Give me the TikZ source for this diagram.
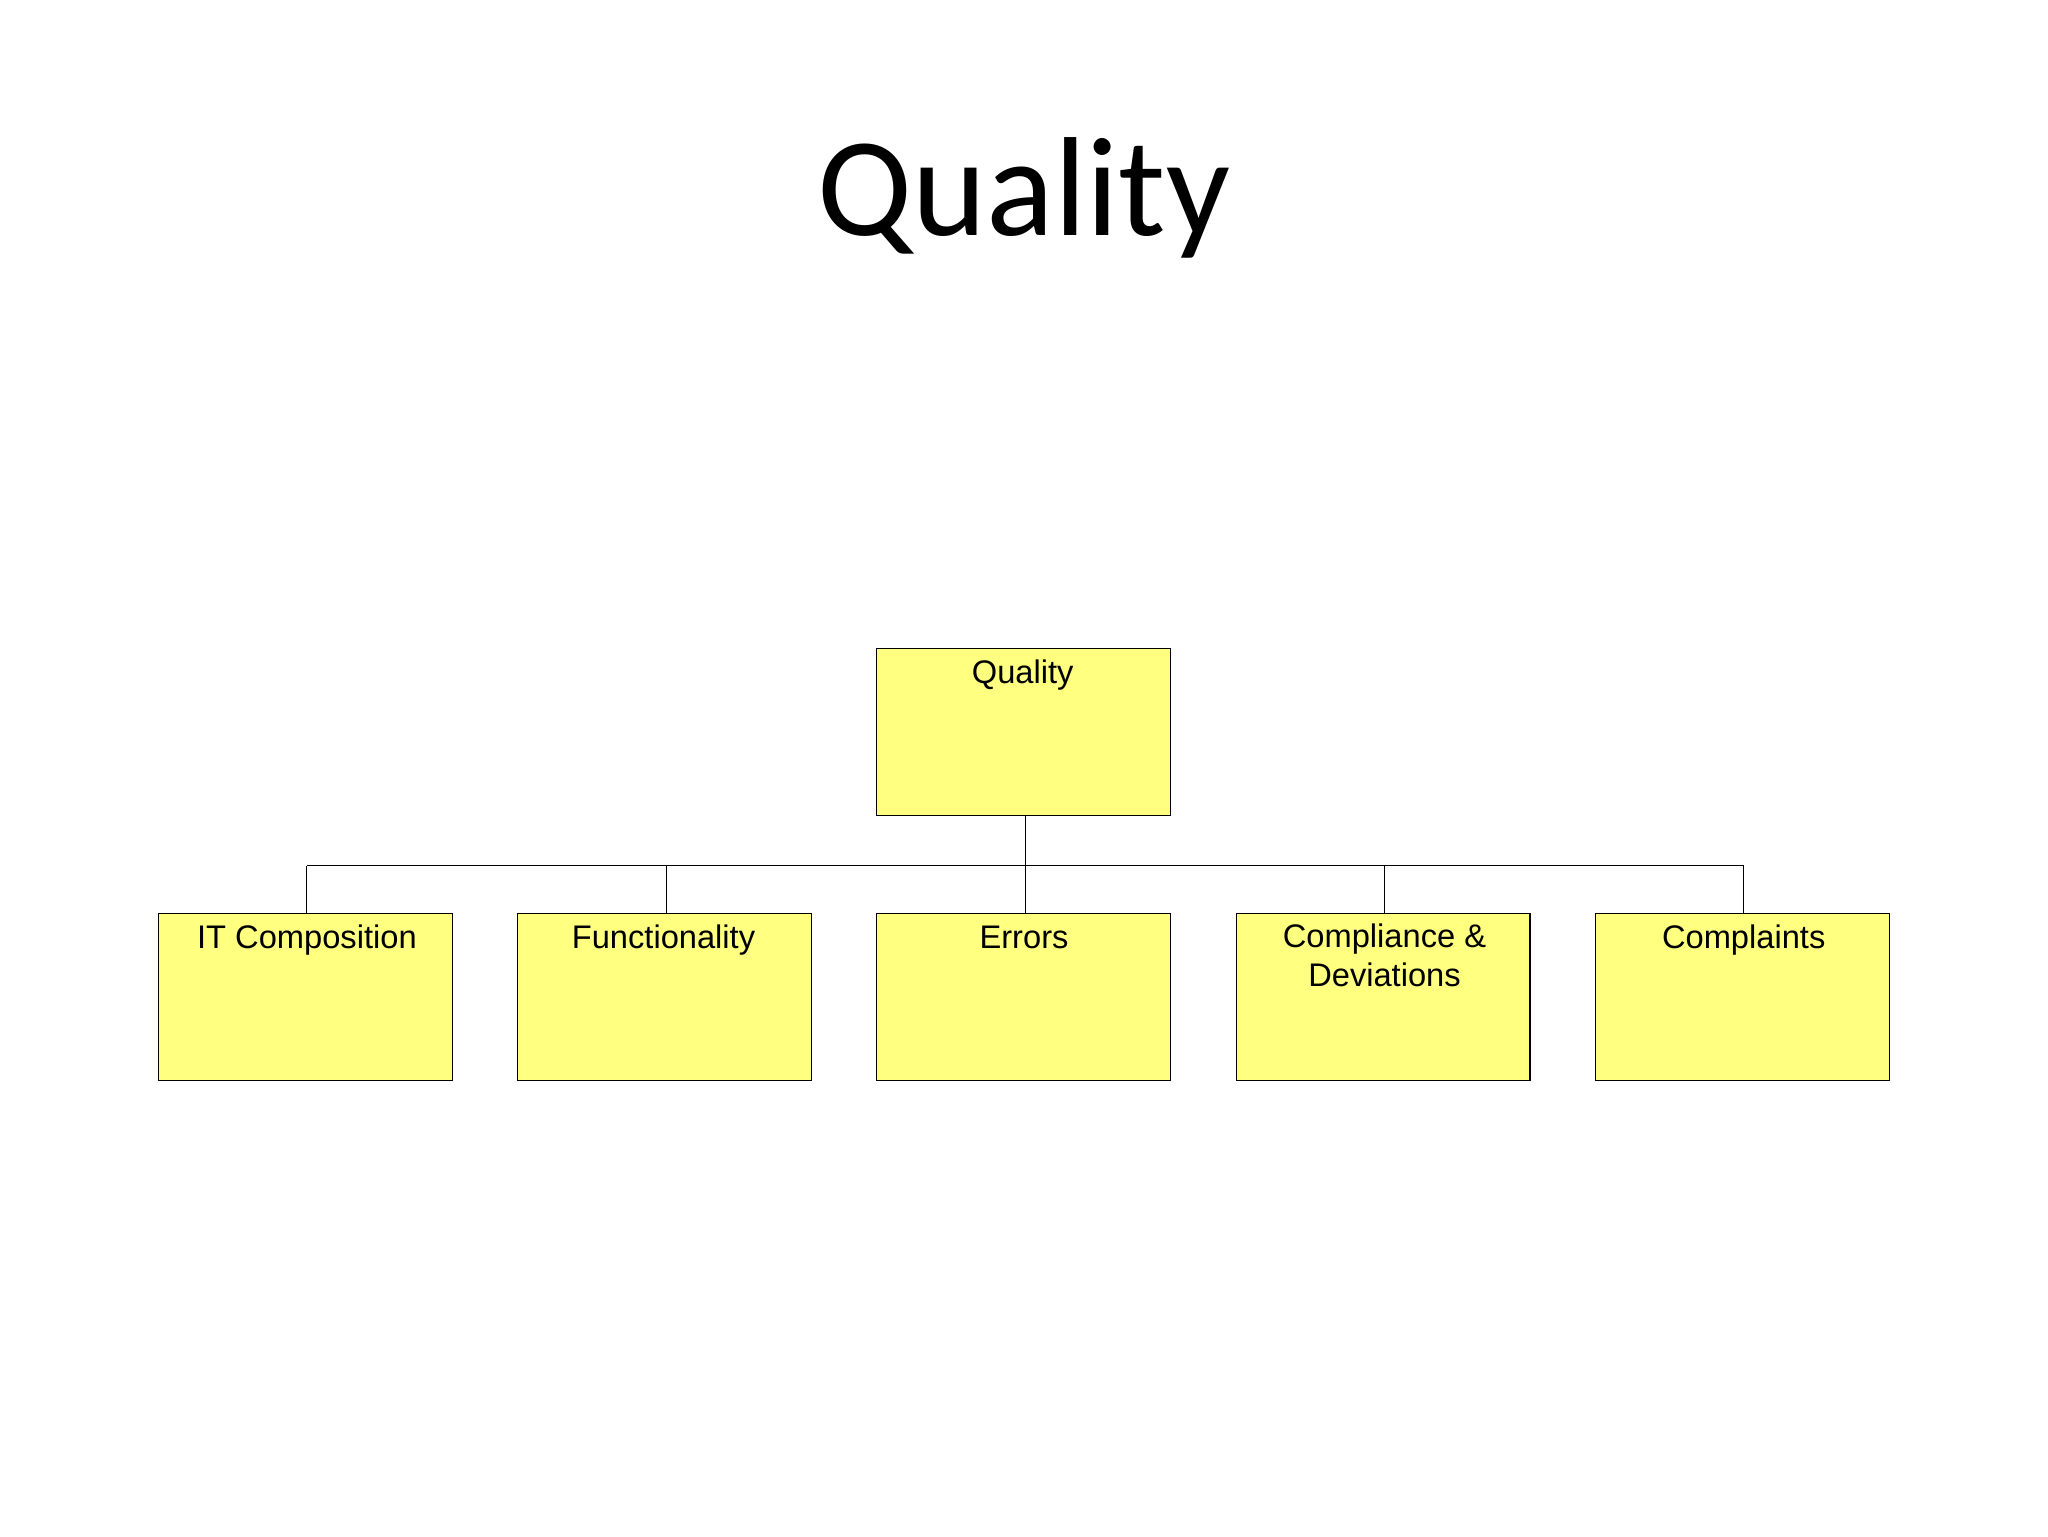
\documentclass[tikz,border=0pt]{standalone}
\usepackage{fontspec}
\setmainfont{Liberation Sans}
\newfontfamily\titlefont{Carlito}
\begin{document}
\begin{tikzpicture}[x=1pt,y=-1pt,
  qbox/.style={draw=black,line width=0.8pt,fill={rgb,255:red,255;green,255;blue,128},minimum width=225pt,minimum height=128pt,anchor=north west,inner sep=0pt},
  qlabel/.style={anchor=base,font=\fontsize{25}{30}\selectfont,align=center},
  conn/.style={draw=black,line width=0.8pt}]
\useasboundingbox (0,0) rectangle (1568,1176);
\fill[white] (0,0) rectangle (1568,1176);
\node[anchor=base,font=\titlefont\fontsize{108}{120}\selectfont] (title) at (784,180) {Quality};
\node[qbox] (q) at (671,496) {};
\node[qbox] (a) at (121,699) {};
\node[qbox] (b) at (396,699) {};
\node[qbox] (c) at (671,699) {};
\node[qbox] (d) at (946,699) {};
\node[qbox] (e) at (1221,699) {};
\node[qlabel] (lq) at (783,523) {Quality};
\node[qlabel] (la) at (235,726) {IT Composition};
\node[qlabel] (lb) at (508,726) {Functionality};
\node[qlabel] (lc) at (784,726) {Errors};
\node[qlabel,anchor=north] (ld) at (1060,704) {Compliance \&\\Deviations};
\node[qlabel] (le) at (1335,726) {Complaints};
\coordinate (hub) at (785,663);
\path[conn] (q.south -| hub) -- (hub);
\foreach \n/\x in {a/235,b/510,c/785,d/1060,e/1335}
  \path[conn] (\x,663) -- (\x,699);
\path[conn] (235,663) -- (1335,663);
\end{tikzpicture}
\end{document}
